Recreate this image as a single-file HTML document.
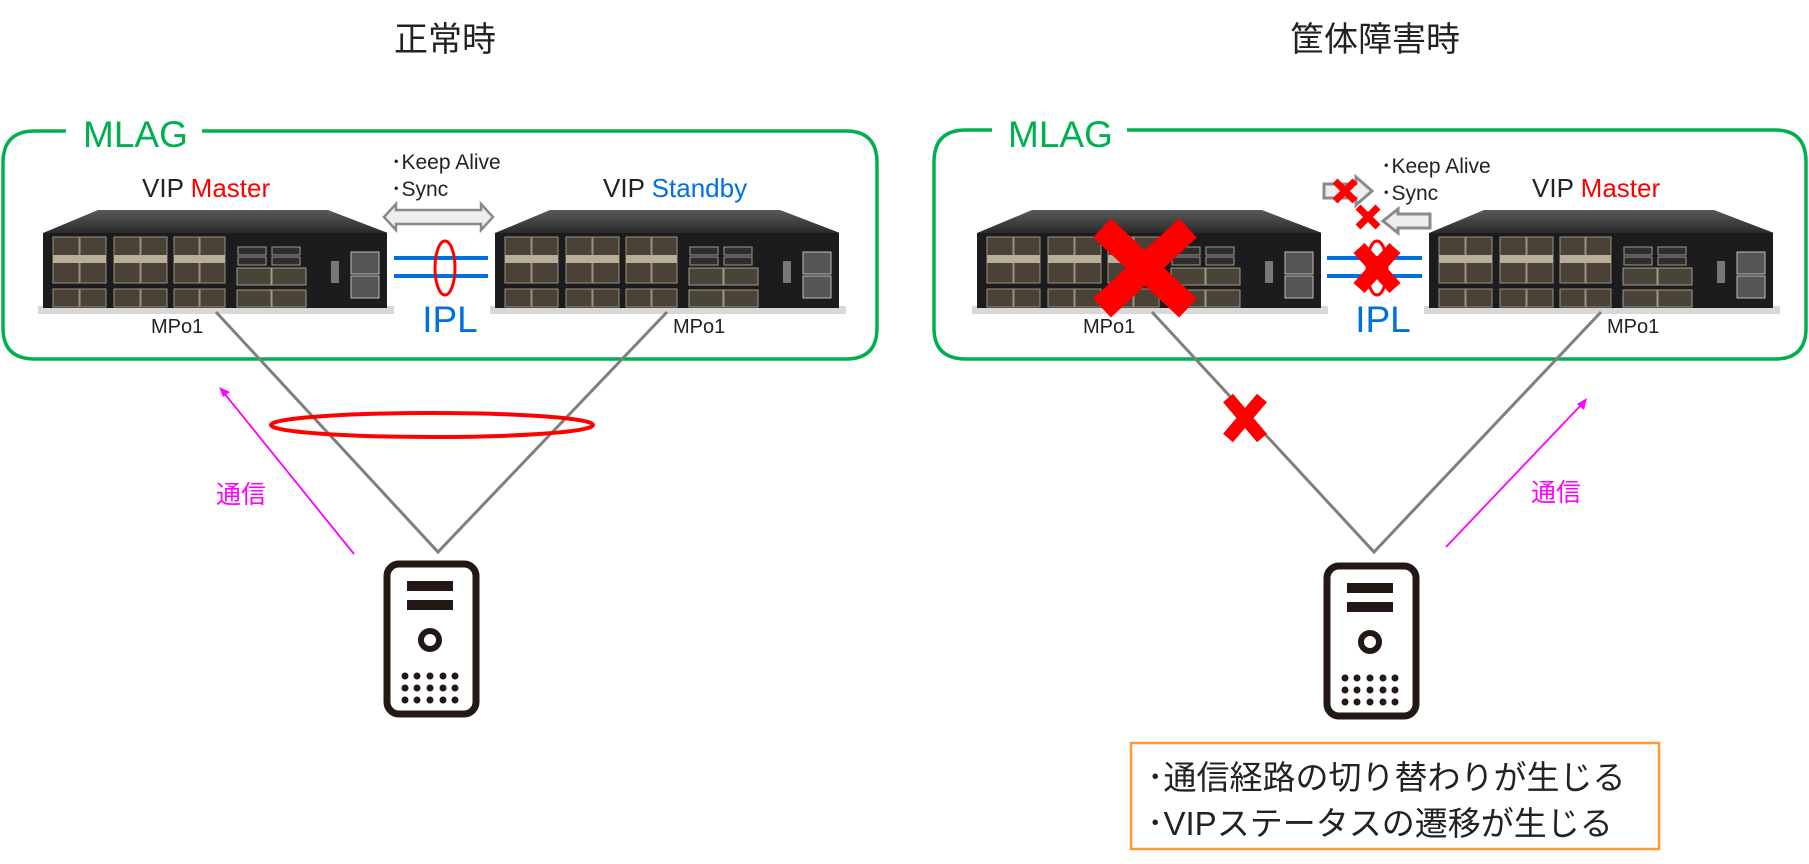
<!DOCTYPE html>
<html><head><meta charset="utf-8">
<style>
html,body{margin:0;padding:0;background:#fff;}
body{width:1809px;height:864px;overflow:hidden;position:relative;}
svg{position:absolute;left:0;top:0;}
text{font-family:"Liberation Sans","Noto Sans CJK JP",sans-serif;}
</style></head>
<body>
<svg width="1809" height="864" viewBox="0 0 1809 864" xmlns="http://www.w3.org/2000/svg">
<defs>
<linearGradient id="topg" x1="0" y1="0" x2="0" y2="1">
<stop offset="0" stop-color="#5a5a5a"/><stop offset="1" stop-color="#2a2a2a"/>
</linearGradient>
<g id="sw">
  <rect x="0" y="101" width="356" height="8" fill="#d8d8d8"/>
  <polygon points="60,5 290,5 350,28 5,28" fill="url(#topg)"/>
  <rect x="5" y="28" width="344" height="75" fill="#1c1c1e"/>
  <g fill="#4a4236" stroke="#9a9080" stroke-width="1">
    <rect x="15" y="32" width="26" height="46"/><rect x="42" y="32" width="26" height="46"/>
    <rect x="76" y="32" width="26" height="46"/><rect x="103" y="32" width="26" height="46"/>
    <rect x="136" y="32" width="25" height="46"/><rect x="162" y="32" width="25" height="46"/>
    <rect x="15" y="84" width="26" height="18"/><rect x="42" y="84" width="26" height="18"/>
    <rect x="76" y="84" width="26" height="18"/><rect x="103" y="84" width="26" height="18"/>
    <rect x="136" y="84" width="25" height="18"/><rect x="162" y="84" width="25" height="18"/>
  </g>
  <g fill="#b8ad98">
    <rect x="15" y="50" width="53" height="8"/><rect x="76" y="50" width="53" height="8"/><rect x="136" y="50" width="51" height="8"/>
  </g>
  <g fill="#2e2e2e" stroke="#a09a8a" stroke-width="1">
    <rect x="200" y="42" width="28" height="8"/><rect x="234" y="42" width="28" height="8"/>
    <rect x="200" y="52" width="28" height="8"/><rect x="234" y="52" width="28" height="8"/>
  </g>
  <g fill="#4a4438" stroke="#a09a8a" stroke-width="1">
    <rect x="199" y="63" width="34" height="17"/><rect x="234" y="63" width="34" height="17"/>
    <rect x="199" y="85" width="34" height="17"/><rect x="234" y="85" width="34" height="17"/>
  </g>
  <rect x="293" y="56" width="8" height="22" fill="#777"/>
  <g fill="#555" stroke="#bbb" stroke-width="1">
    <rect x="313" y="47" width="28" height="22"/><rect x="313" y="71" width="28" height="22"/>
  </g>
</g>
<g id="srv">
  <rect x="4" y="4" width="89" height="150" rx="12" fill="#fff" stroke="#231815" stroke-width="7"/>
  <rect x="24" y="21" width="46" height="10" fill="#231815"/>
  <rect x="24" y="40" width="46" height="10" fill="#231815"/>
  <circle cx="47" cy="80" r="9" fill="none" stroke="#231815" stroke-width="6"/>
  <g fill="#231815">
    <circle cx="22" cy="116" r="3.5"/><circle cx="34" cy="116" r="3.5"/><circle cx="47" cy="116" r="3.5"/><circle cx="60" cy="116" r="3.5"/><circle cx="72" cy="116" r="3.5"/>
    <circle cx="22" cy="128" r="3.5"/><circle cx="34" cy="128" r="3.5"/><circle cx="47" cy="128" r="3.5"/><circle cx="60" cy="128" r="3.5"/><circle cx="72" cy="128" r="3.5"/>
    <circle cx="22" cy="140" r="3.5"/><circle cx="34" cy="140" r="3.5"/><circle cx="47" cy="140" r="3.5"/><circle cx="60" cy="140" r="3.5"/><circle cx="72" cy="140" r="3.5"/>
  </g>
</g>
<g id="xm"><path d="M-10,-10 L10,10 M10,-10 L-10,10" stroke="#ff0000" stroke-width="7"/></g>
</defs>

<text x="445" y="51" font-size="34" text-anchor="middle" fill="#222">正常時</text>
<path d="M66,131 H35 Q3,131 3,163 V328 Q3,359 35,359 H846 Q877,359 877,328 V163 Q877,131 846,131 H202" fill="none" stroke="#00b050" stroke-width="3.5"/>
<text x="83" y="147" font-size="37" fill="#00b050">MLAG</text>
<text x="142" y="197" font-size="26" fill="#222">VIP <tspan fill="#ff0000">Master</tspan></text>
<text x="603" y="197" font-size="26" fill="#222">VIP <tspan fill="#0070e0">Standby</tspan></text>
<text x="391" y="169" font-size="21" fill="#222">･Keep Alive</text>
<text x="391" y="196" font-size="21" fill="#222">･Sync</text>
<polygon points="384,217 396,204 396,210 481,210 481,204 493,217 481,230 481,224 396,224 396,230" fill="#eee" stroke="#8a8a8a" stroke-width="2.5"/>
<use href="#sw" x="38" y="205"/>
<use href="#sw" x="490" y="205"/>
<line x1="394" y1="258" x2="488" y2="258" stroke="#0070e0" stroke-width="4"/>
<line x1="394" y1="276" x2="488" y2="276" stroke="#0070e0" stroke-width="4"/>
<ellipse cx="445" cy="268" rx="10" ry="27" fill="none" stroke="#ff0000" stroke-width="3"/>
<text x="450" y="332" font-size="37" text-anchor="middle" fill="#0070e0">IPL</text>
<text x="151" y="333" font-size="20" fill="#222">MPo1</text>
<text x="673" y="333" font-size="20" fill="#222">MPo1</text>
<polyline points="216,312 438,552 667,312" fill="none" stroke="#7f7f7f" stroke-width="3"/>
<ellipse cx="432" cy="425" rx="161" ry="12" fill="none" stroke="#ff0000" stroke-width="4"/>
<line x1="354" y1="554" x2="224" y2="393" stroke="#ff00ff" stroke-width="1.8"/>
<polygon points="219,387 230,392 223,397" fill="#ff00ff"/>
<text x="216" y="503" font-size="25" fill="#ff00ff">通信</text>
<use href="#srv" x="383" y="560"/>

<text x="1375" y="51" font-size="34" text-anchor="middle" fill="#222">筐体障害時</text>
<path d="M992,130 H966 Q934,130 934,162 V328 Q934,359 966,359 H1775 Q1806,359 1806,328 V162 Q1806,130 1775,130 H1127" fill="none" stroke="#00b050" stroke-width="3.5"/>
<text x="1008" y="147" font-size="37" fill="#00b050">MLAG</text>
<text x="1532" y="197" font-size="26" fill="#222">VIP <tspan fill="#ff0000">Master</tspan></text>
<text x="1381" y="173" font-size="21" fill="#222">･Keep Alive</text>
<text x="1381" y="200" font-size="21" fill="#222">･Sync</text>
<polygon points="1324,184 1356,184 1356,177 1372,191 1356,205 1356,198 1324,198" fill="#eee" stroke="#8a8a8a" stroke-width="3"/>
<polygon points="1430,214 1398,214 1398,209 1383,221 1398,233 1398,228 1430,228" fill="#eee" stroke="#8a8a8a" stroke-width="3"/>
<use href="#xm" transform="translate(1345,191)"/>
<use href="#xm" transform="translate(1368,217)"/>
<use href="#sw" x="972" y="205"/>
<use href="#sw" x="1424" y="205"/>
<line x1="1327" y1="258" x2="1422" y2="258" stroke="#0070e0" stroke-width="4"/>
<line x1="1327" y1="276" x2="1422" y2="276" stroke="#0070e0" stroke-width="4"/>
<ellipse cx="1377" cy="268" rx="10" ry="27" fill="none" stroke="#ff0000" stroke-width="3"/>
<path d="M1359,248 L1395,288 M1395,248 L1359,288" stroke="#ff0000" stroke-width="15"/>
<path d="M1102,228 L1188,308 M1188,228 L1102,308" stroke="#ff0000" stroke-width="26"/>
<text x="1383" y="332" font-size="37" text-anchor="middle" fill="#0070e0">IPL</text>
<text x="1083" y="333" font-size="20" fill="#222">MPo1</text>
<text x="1607" y="333" font-size="20" fill="#222">MPo1</text>
<polyline points="1152,312 1374,552 1601,312" fill="none" stroke="#7f7f7f" stroke-width="3"/>
<path d="M1228,398 L1262,438 M1262,398 L1228,438" stroke="#ff0000" stroke-width="13"/>
<line x1="1446" y1="547" x2="1582" y2="404" stroke="#ff00ff" stroke-width="1.8"/>
<polygon points="1587,398 1584,410 1577,404" fill="#ff00ff"/>
<text x="1531" y="501" font-size="25" fill="#ff00ff">通信</text>
<use href="#srv" x="1323" y="562"/>
<rect x="1131" y="743" width="528" height="106" fill="#fff" stroke="#ff9933" stroke-width="2.5"/>
<text x="1147" y="789" font-size="33" fill="#222">･通信経路の切り替わりが生じる</text>
<text x="1147" y="835" font-size="33" fill="#222">･VIPステータスの遷移が生じる</text>
</svg>
</body></html>
